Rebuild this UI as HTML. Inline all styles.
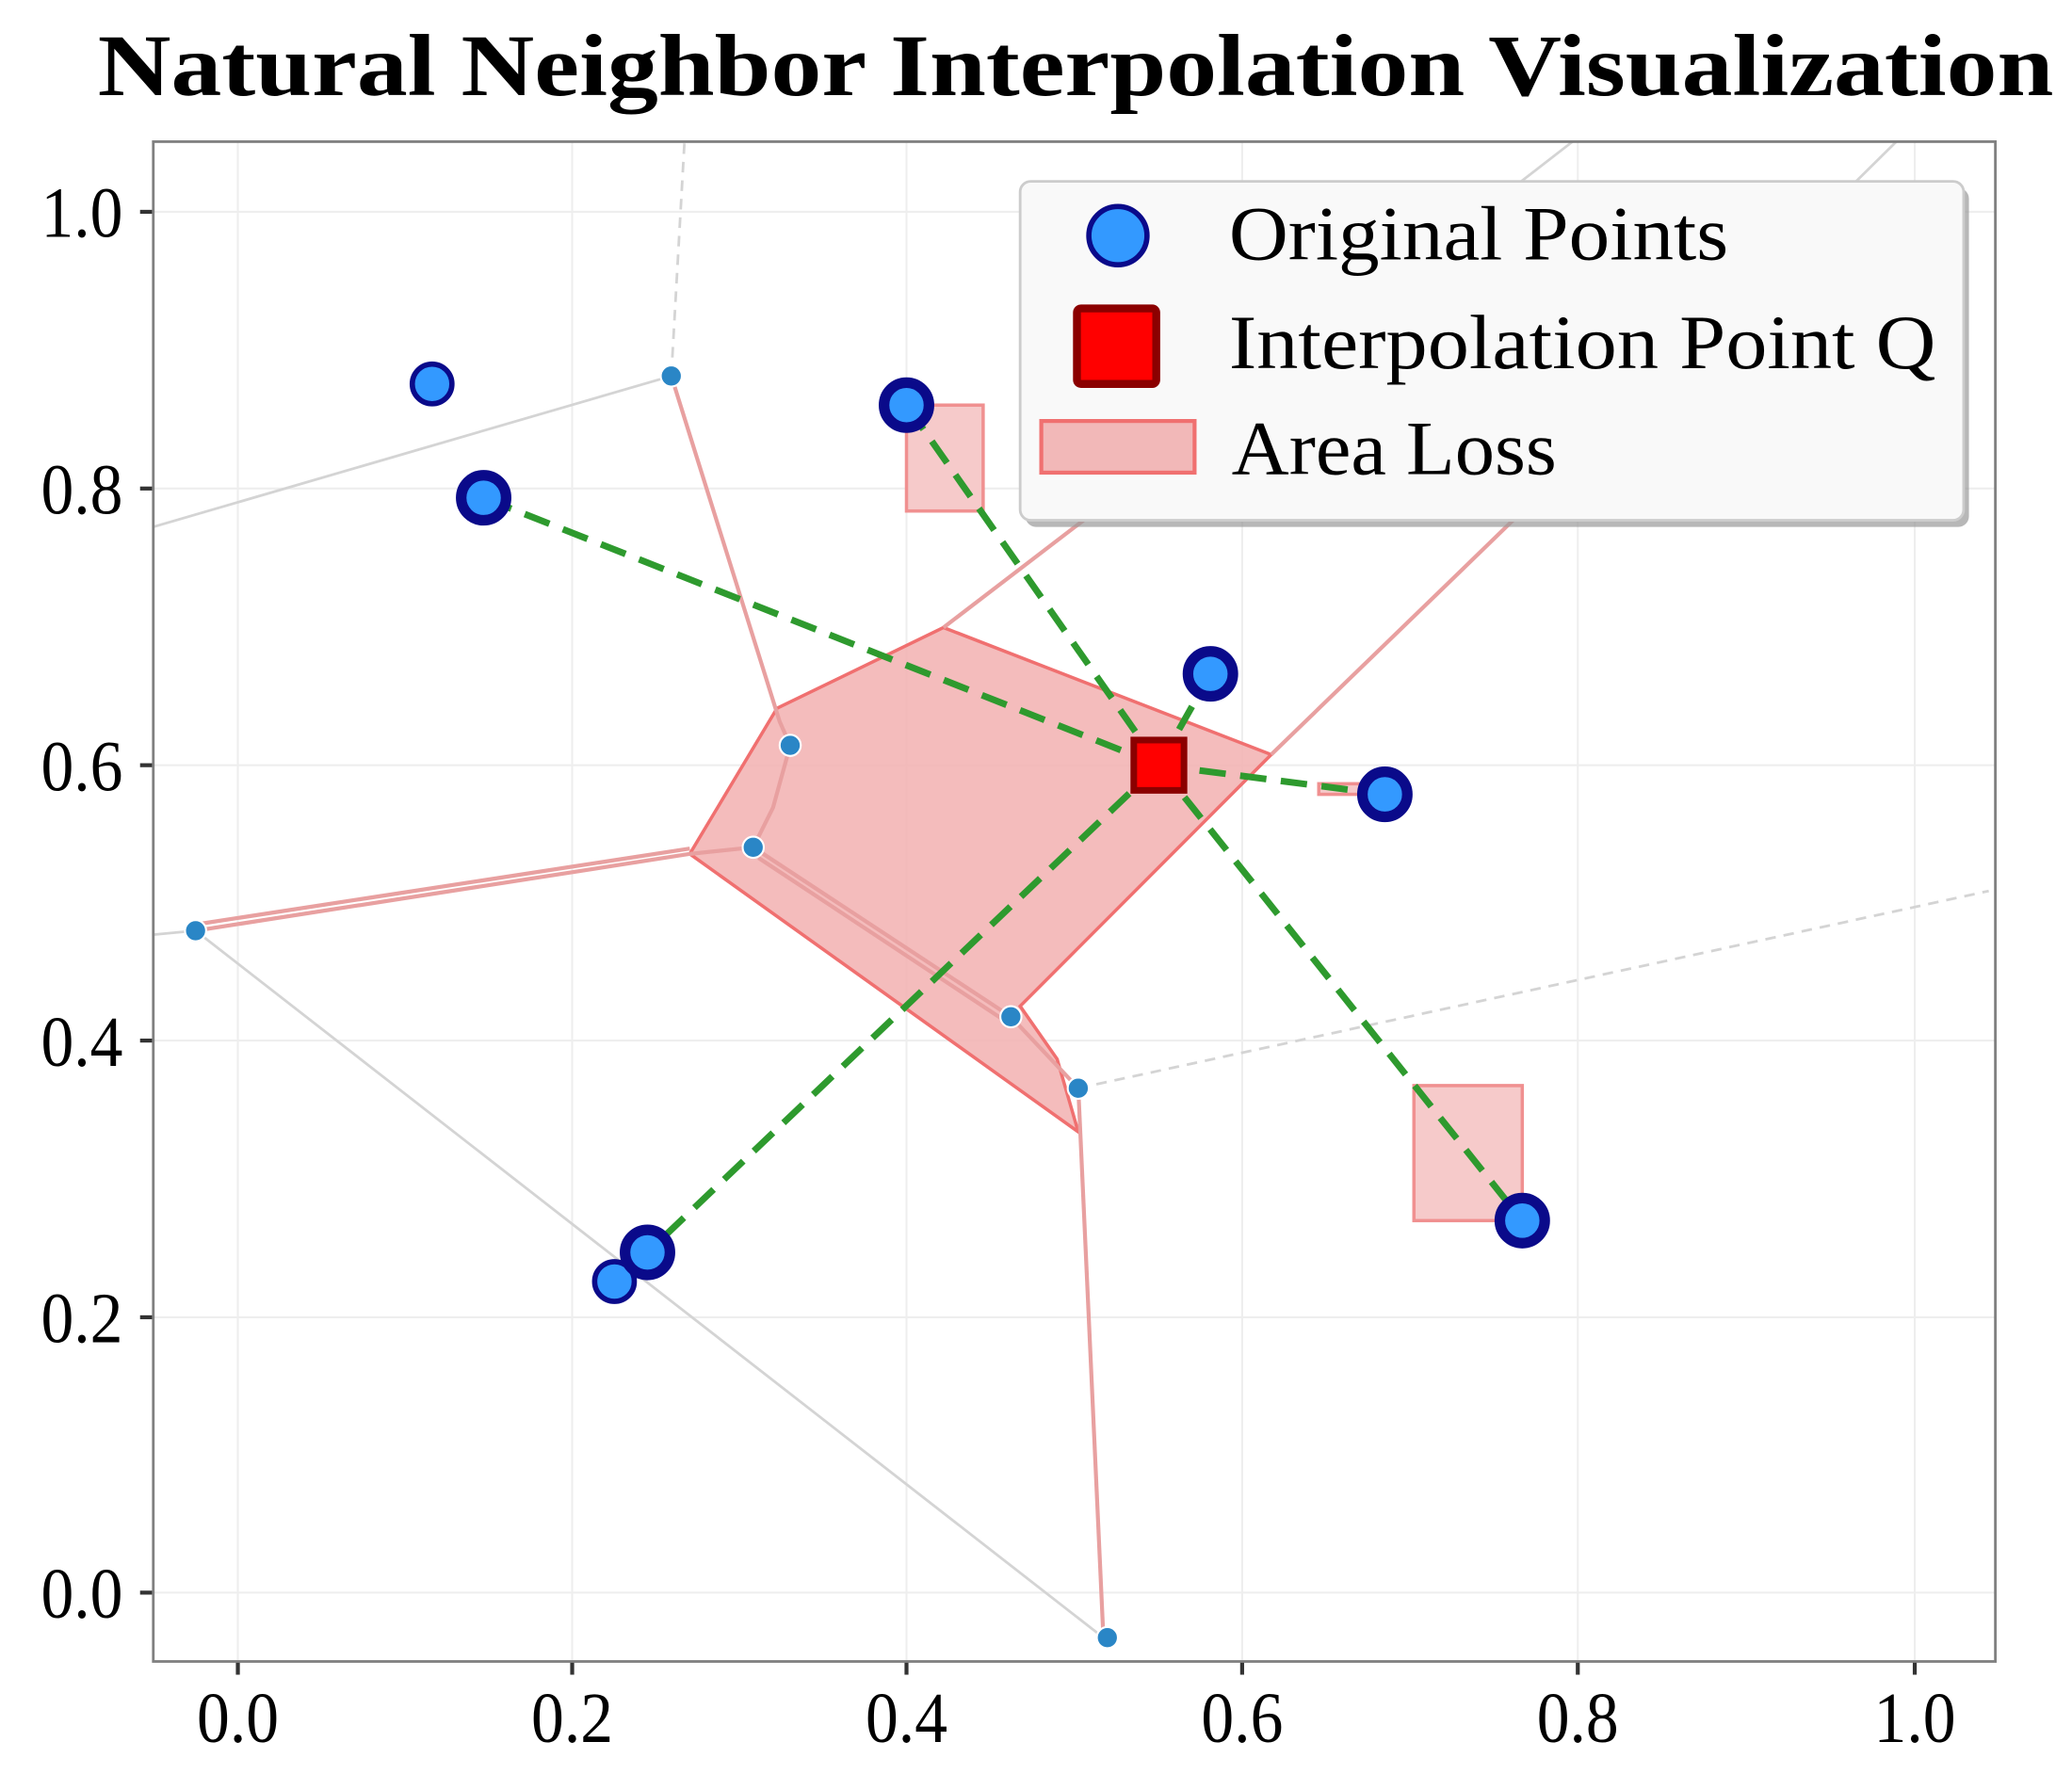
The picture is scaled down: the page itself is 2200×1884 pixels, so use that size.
<!DOCTYPE html>
<html><head><meta charset="utf-8"><style>html,body{margin:0;padding:0;background:#fff}svg{display:block}</style></head>
<body>
<svg width="2200" height="1884" viewBox="0 0 1568 1340" preserveAspectRatio="none" xmlns="http://www.w3.org/2000/svg" font-family="Liberation Serif, serif">
<rect width="1568" height="1340" fill="#fff"/>
<text x="814" y="72" text-anchor="middle" font-size="66" font-weight="bold" textLength="1480" lengthAdjust="spacingAndGlyphs">Natural Neighbor Interpolation Visualization</text>
<g stroke="#eeeeee" stroke-width="1.5">
<line x1="180" y1="107" x2="180" y2="1255"/><line x1="433" y1="107" x2="433" y2="1255"/><line x1="686" y1="107" x2="686" y2="1255"/><line x1="940" y1="107" x2="940" y2="1255"/><line x1="1194" y1="107" x2="1194" y2="1255"/><line x1="1449" y1="107" x2="1449" y2="1255"/>
<line x1="116" y1="160" x2="1510" y2="160"/><line x1="116" y1="369" x2="1510" y2="369"/><line x1="116" y1="578" x2="1510" y2="578"/><line x1="116" y1="786" x2="1510" y2="786"/><line x1="116" y1="995" x2="1510" y2="995"/><line x1="116" y1="1203" x2="1510" y2="1203"/>
</g>
<g stroke="#333" stroke-width="3">
<line x1="180" y1="1255" x2="180" y2="1265"/><line x1="433" y1="1255" x2="433" y2="1265"/><line x1="686" y1="1255" x2="686" y2="1265"/><line x1="940" y1="1255" x2="940" y2="1265"/><line x1="1194" y1="1255" x2="1194" y2="1265"/><line x1="1449" y1="1255" x2="1449" y2="1265"/>
<line x1="106" y1="160" x2="116" y2="160"/><line x1="106" y1="369" x2="116" y2="369"/><line x1="106" y1="578" x2="116" y2="578"/><line x1="106" y1="786" x2="116" y2="786"/><line x1="106" y1="995" x2="116" y2="995"/><line x1="106" y1="1203" x2="116" y2="1203"/>
</g>
<g font-size="54" text-anchor="middle">
<text x="180" y="1316" textLength="62" lengthAdjust="spacingAndGlyphs">0.0</text><text x="433" y="1316" textLength="62" lengthAdjust="spacingAndGlyphs">0.2</text><text x="686" y="1316" textLength="62" lengthAdjust="spacingAndGlyphs">0.4</text><text x="940" y="1316" textLength="62" lengthAdjust="spacingAndGlyphs">0.6</text><text x="1194" y="1316" textLength="62" lengthAdjust="spacingAndGlyphs">0.8</text><text x="1449" y="1316" textLength="62" lengthAdjust="spacingAndGlyphs">1.0</text>
</g>
<g font-size="54">
<text x="31" y="179" textLength="62" lengthAdjust="spacingAndGlyphs">1.0</text><text x="31" y="388" textLength="62" lengthAdjust="spacingAndGlyphs">0.8</text><text x="31" y="597" textLength="62" lengthAdjust="spacingAndGlyphs">0.6</text><text x="31" y="805" textLength="62" lengthAdjust="spacingAndGlyphs">0.4</text><text x="31" y="1014" textLength="62" lengthAdjust="spacingAndGlyphs">0.2</text><text x="31" y="1222" textLength="62" lengthAdjust="spacingAndGlyphs">0.0</text>
</g>
<g stroke="#d4d4d4" stroke-width="2" fill="none">
<line x1="116" y1="398" x2="508" y2="284"/>
<line x1="508" y1="284" x2="518" y2="107" stroke-dasharray="8 6"/>
<line x1="148" y1="703" x2="835" y2="1237"/>
<line x1="116" y1="706" x2="148" y2="703"/>
<line x1="816" y1="822" x2="1505" y2="673" stroke-dasharray="8 6"/>
<line x1="1190" y1="107" x2="820" y2="393"/>
<line x1="1435" y1="107" x2="1145" y2="393"/>
</g>
<polygon points="588,535 714,474 962,570 772,760 800,800 816,855 522,645" fill="#f2b0b0" fill-opacity="0.85" stroke="#f07070" stroke-width="2.5"/>
<g stroke="#e8a0a0" stroke-width="3" fill="none">
<polyline points="508,284 590,545 598,563"/>
<line x1="148" y1="703" x2="522" y2="645"/>
<line x1="150" y1="698" x2="522" y2="641"/>
<line x1="522" y1="645" x2="570" y2="640"/>
<polyline points="598,563 585,610 570,640"/>
<line x1="570" y1="640" x2="765" y2="768"/>
<line x1="574" y1="648" x2="765" y2="774"/>
<line x1="765" y1="768" x2="816" y2="822"/>
<line x1="816" y1="822" x2="835" y2="1237"/>
<line x1="714" y1="474" x2="820" y2="393"/>
<line x1="962" y1="570" x2="1145" y2="393"/>
</g>
<g fill="#f6caca" stroke="#f09090" stroke-width="2.5">
<rect x="686" y="306" width="58" height="80"/>
<rect x="1070" y="820" width="82" height="102"/>
<rect x="998" y="592" width="32" height="8"/>
</g>
<g stroke="#2e9a2e" stroke-width="5" stroke-dasharray="20 11" fill="none">
<line x1="877" y1="578" x2="366" y2="376"/>
<line x1="877" y1="578" x2="686" y2="306"/>
<line x1="877" y1="578" x2="916" y2="509"/>
<line x1="877" y1="578" x2="1048" y2="600"/>
<line x1="877" y1="578" x2="1152" y2="922"/>
<line x1="877" y1="578" x2="490" y2="946"/>
</g>
<g fill="#2a86c6" stroke="#fff" stroke-width="1.5">
<circle cx="508" cy="284" r="8"/><circle cx="598" cy="563" r="8"/><circle cx="570" cy="640" r="8"/><circle cx="148" cy="703" r="8"/><circle cx="765" cy="768" r="8"/><circle cx="816" cy="822" r="8"/><circle cx="838" cy="1237" r="8"/>
</g>
<g fill="#3399ff" stroke="#0a0a8a">
<circle cx="327" cy="290" r="15" stroke-width="4"/>
<circle cx="465" cy="968" r="15" stroke-width="4"/>
<circle cx="366" cy="376" r="17" stroke-width="8"/>
<circle cx="686" cy="306" r="17" stroke-width="8"/>
<circle cx="916" cy="509" r="17" stroke-width="8"/>
<circle cx="1048" cy="600" r="17" stroke-width="8"/>
<circle cx="1152" cy="922" r="17" stroke-width="8"/>
<circle cx="490" cy="946" r="17" stroke-width="8"/>
</g>
<rect x="858" y="559" width="38" height="38" fill="#ff0000" stroke="#8b0000" stroke-width="5"/>
<rect x="116" y="107" width="1394" height="1148" fill="none" stroke="#808080" stroke-width="2"/>
<rect x="776" y="142" width="714" height="256" rx="8" fill="#999" opacity="0.7"/>
<rect x="772" y="137" width="714" height="256" rx="8" fill="#f9f9f9" stroke="#cccccc" stroke-width="2"/>
<circle cx="846" cy="178" r="22" fill="#3399ff" stroke="#0a0a8a" stroke-width="4"/>
<rect x="815" y="233" width="60" height="57" rx="3" fill="#ff0000" stroke="#8b0000" stroke-width="6"/>
<rect x="788" y="318" width="116" height="39" fill="#f2b8b8" stroke="#f07070" stroke-width="3"/>
<g font-size="58">
<text x="930" y="196" textLength="378" lengthAdjust="spacingAndGlyphs">Original Points</text>
<text x="930" y="278" textLength="535" lengthAdjust="spacingAndGlyphs">Interpolation Point Q</text>
<text x="932" y="358" textLength="246" lengthAdjust="spacingAndGlyphs">Area Loss</text>
</g>
</svg>
</body></html>
